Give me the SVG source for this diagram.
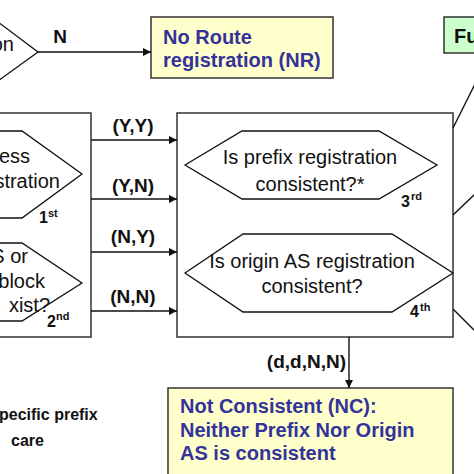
<svg xmlns="http://www.w3.org/2000/svg" width="474" height="474" viewBox="0 0 474 474">
<style>
.box{fill:#fff;stroke:#333;stroke-width:1.5}
.hex{fill:#fff;stroke:#111;stroke-width:1.3}
.yel{fill:#FFFFCC;stroke:#333;stroke-width:1.5}
.grn{fill:#CCFFCC;stroke:#333;stroke-width:1.5}
.t{font-family:"Liberation Sans",Arial,sans-serif;font-size:20px;fill:#111}
.b{font-family:"Liberation Sans",Arial,sans-serif;font-weight:bold;fill:#111}
.blue{font-family:"Liberation Sans",Arial,sans-serif;font-weight:bold;font-size:20px;fill:#333399}
.lbl{font-family:"Liberation Sans",Arial,sans-serif;font-weight:bold;font-size:19px;fill:#111}
.c{fill:none;stroke:#111;stroke-width:1.4}
</style>
<defs>
<marker id="ah" viewBox="0 0 10 10" refX="10" refY="5" markerWidth="9" markerHeight="8" markerUnits="userSpaceOnUse" orient="auto">
<path d="M0,0 L10,5 L0,10 z" fill="#111"/>
</marker>
</defs>
<rect width="474" height="474" fill="#fff"/>

<g id="node-top-decision">
<polyline class="hex" points="-2,22 38,52 -2,81"/>
<text class="t" x="14" y="51" text-anchor="end">on</text>
</g>

<g id="node-nr">
<rect class="yel" x="151" y="17" width="182" height="61"/>
<text class="blue" x="163" y="44">No Route</text>
<text class="blue" x="163" y="67">registration (NR)</text>
</g>

<g id="node-fu">
<rect class="grn" x="444" y="17" width="40" height="36"/>
<text class="b" font-size="20" x="454" y="43">Fu</text>
</g>

<g id="node-left-box">
<rect class="box" x="-5" y="113" width="96" height="224"/>
</g>
<g id="node-hex1">
<polygon class="hex" points="-10,131 22,131 82,174 22,218 -10,218"/>
<text class="t" x="30" y="163" text-anchor="end">ess</text>
<text class="t" x="60" y="188" text-anchor="end">stration</text>
<text class="b" font-size="16" x="39" y="223">1</text>
<text class="b" font-size="11" x="48" y="217">st</text>
</g>
<g id="node-hex2">
<polygon class="hex" points="-10,243 22,243 82,283 22,321 -10,321"/>
<text class="t" x="28" y="263" text-anchor="end">LS or</text>
<text class="t" x="45" y="288" text-anchor="end">block</text>
<text class="t" x="50" y="312" text-anchor="end">xist?</text>
<text class="b" font-size="16" x="47" y="327">2</text>
<text class="b" font-size="11" x="56" y="320">nd</text>
</g>

<g id="node-mid-box">
<rect class="box" x="177" y="113" width="276" height="224"/>
</g>
<g id="node-hex3">
<polygon class="hex" points="185,165 242,131 379,131 437,165 379,199 242,199"/>
<text class="t" x="310" y="164" text-anchor="middle">Is prefix registration</text>
<text class="t" x="310" y="191" text-anchor="middle">consistent?*</text>
<text class="b" font-size="16" x="401" y="207">3</text>
<text class="b" font-size="11" x="411" y="200">rd</text>
</g>
<g id="node-hex4">
<polygon class="hex" points="185,273 243,234 392,234 453,273 392,312 243,312"/>
<text class="t" x="312" y="268" text-anchor="middle">Is origin AS registration</text>
<text class="t" x="312" y="293" text-anchor="middle">consistent?</text>
<text class="b" font-size="16" x="410" y="317">4</text>
<text class="b" font-size="11" x="420" y="311">th</text>
</g>

<g id="node-nc">
<rect class="yel" x="168" y="388" width="285" height="100"/>
<text class="blue" x="180" y="413">Not Consistent (NC):</text>
<text class="blue" x="180" y="437">Neither Prefix Nor Origin</text>
<text class="blue" x="180" y="460">AS is consistent</text>
</g>

<g id="legend">
<text class="b" font-size="16" x="-1" y="420">pecific prefix</text>
<text class="b" font-size="16" x="11" y="446">care</text>
</g>

<g id="connectors">
<line class="c" x1="38" y1="52" x2="151" y2="52" marker-end="url(#ah)"/>
<text class="lbl" x="60" y="43" text-anchor="middle">N</text>
<line class="c" x1="91" y1="140" x2="177" y2="140" marker-end="url(#ah)"/>
<text class="lbl" x="133" y="132" text-anchor="middle">(Y,Y)</text>
<line class="c" x1="91" y1="199" x2="177" y2="199" marker-end="url(#ah)"/>
<text class="lbl" x="133" y="192" text-anchor="middle">(Y,N)</text>
<line class="c" x1="91" y1="252" x2="177" y2="252" marker-end="url(#ah)"/>
<text class="lbl" x="133" y="243" text-anchor="middle">(N,Y)</text>
<line class="c" x1="91" y1="311" x2="177" y2="311" marker-end="url(#ah)"/>
<text class="lbl" x="133" y="303" text-anchor="middle">(N,N)</text>
<line class="c" x1="349" y1="337" x2="349" y2="388" marker-end="url(#ah)"/>
<text class="lbl" x="346" y="368" text-anchor="end">(d,d,N,N)</text>
<line class="c" x1="453" y1="128" x2="475" y2="84"/>
<line class="c" x1="453" y1="215" x2="475" y2="194"/>
<line class="c" x1="453" y1="309" x2="475" y2="331"/>
</g>
</svg>
